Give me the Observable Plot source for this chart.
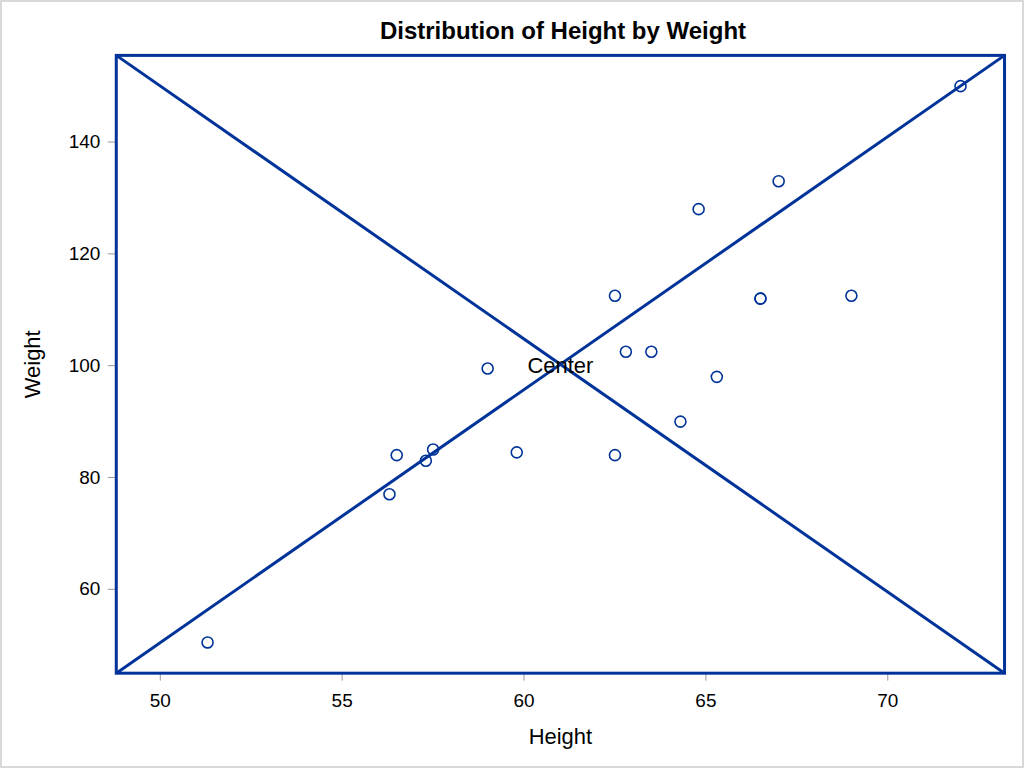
<!DOCTYPE html>
<html>
<head>
<meta charset="utf-8">
<script src="https://cdn.jsdelivr.net/npm/d3@7"></script>
<script src="https://cdn.jsdelivr.net/npm/@observablehq/plot@0.6"></script>
<style>
  html, body { margin: 0; padding: 0; background: #fff; }
  #wrap { position: relative; width: 1024px; height: 768px; box-sizing: border-box; border: 2px solid #d9d9d9; overflow: hidden; }
  #title { position: absolute; left: 116px; width: 890px; top: 15px; text-align: center;
           font-family: "Liberation Sans", Arial, sans-serif; font-weight: bold; font-size: 24px; color: #000; }
  #chart { position: absolute; left: -2px; top: -2px; }
</style>
</head>
<body>
<div id="wrap">
  <div id="chart"></div>
  <div id="title">Distribution of Height by Weight</div>
</div>
<script>
// sashelp.class heights and weights
const heights = [69.0, 56.5, 65.3, 62.8, 63.5, 57.3, 59.8, 62.5, 62.5, 59.0, 51.3, 64.3, 56.3, 66.5, 72.0, 64.8, 67.0, 57.5, 66.5];
const weights = [112.5, 84.0, 98.0, 102.5, 102.5, 83.0, 84.5, 112.5, 84.0, 99.5, 50.5, 90.0, 77.0, 112.0, 150.0, 128.0, 133.0, 85.0, 112.0];
const xDomain = [48.79, 73.21];
const yDomain = [45.0, 155.5];
const xTicks = [50, 55, 60, 65, 70];
const yTicks = [60, 80, 100, 120, 140];
const centerLabel = {x: 61, y: 100, text: "Center"};

const points = heights.map((h, i) => ({height: h, weight: weights[i]}));
const diag = [
  {x1: xDomain[0], y1: yDomain[0], x2: xDomain[1], y2: yDomain[1]},
  {x1: xDomain[0], y1: yDomain[1], x2: xDomain[1], y2: yDomain[0]}
];
const blue = "#003399";
const font = "Liberation Sans, Arial, sans-serif";

const chart = Plot.plot({
  width: 1024,
  height: 768,
  marginLeft: 116,
  marginRight: 18,
  marginTop: 55,
  marginBottom: 94,
  style: {fontFamily: font, background: "transparent"},
  x: {domain: xDomain},
  y: {domain: yDomain},
  marks: [
    Plot.axisX({ticks: xTicks, tickSize: 8, tickPadding: 12, stroke: "#999", fill: "#000", fontSize: 19, label: null}),
    Plot.axisY({ticks: yTicks, tickSize: 8, tickPadding: 8, stroke: "#999", fill: "#000", fontSize: 19, label: null}),
    Plot.link(diag, {x1: "x1", y1: "y1", x2: "x2", y2: "y2", stroke: blue, strokeWidth: 3}),
    Plot.dot(points, {x: "height", y: "weight", r: 5.5, stroke: blue, strokeWidth: 1.6, fill: "none"}),
    Plot.text([centerLabel], {x: "x", y: "y", text: "text", fontSize: 22, fill: "#000"}),
    Plot.text(["Height"], {frameAnchor: "bottom", dy: 64, lineAnchor: "middle", textAnchor: "middle", fontSize: 22, fill: "#000"}),
    Plot.text(["Weight"], {frameAnchor: "left", dx: -83, rotate: -90, lineAnchor: "middle", textAnchor: "middle", fontSize: 22, fill: "#000"}),
    Plot.frame({stroke: blue, strokeWidth: 3})
  ]
});
document.getElementById("chart").appendChild(chart);
</script>
</body>
</html>
